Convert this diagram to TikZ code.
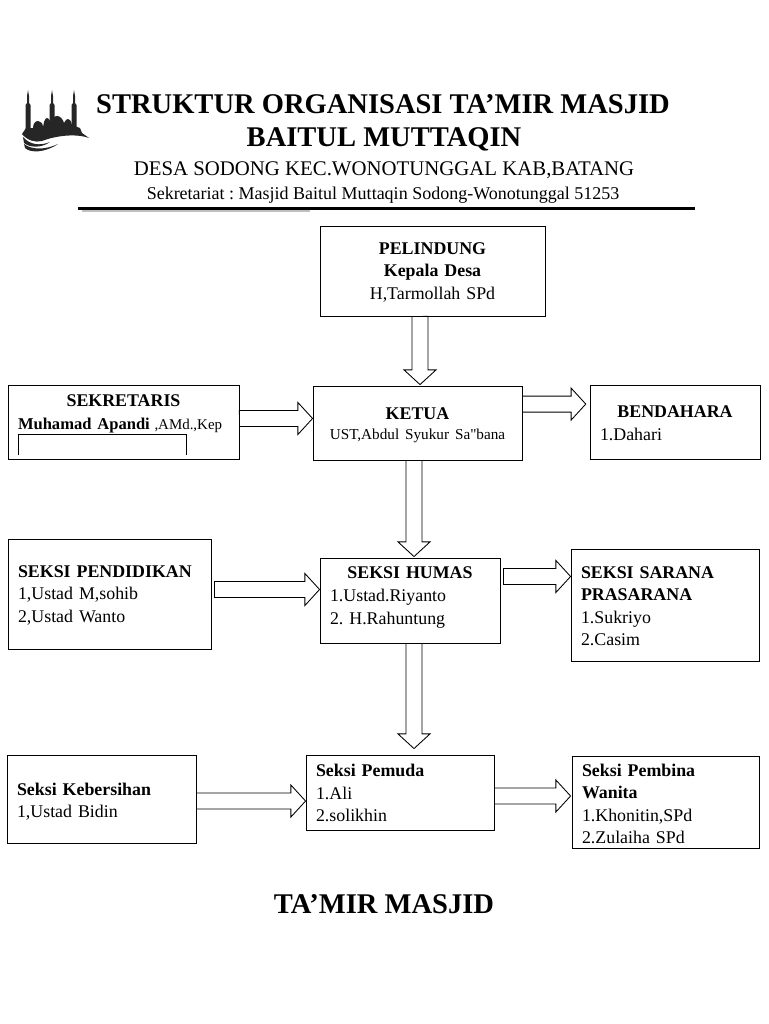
\documentclass[tikz,border=0pt]{standalone}
\usepackage{fontspec}
\setmainfont{Liberation Serif}
\newfontfamily\plainfont{Liberation Serif}
\usetikzlibrary{positioning,calc}
\frenchspacing
\newcommand{\fs}[1]{\fontsize{#1}{#1}\selectfont}
\newcommand{\hd}[1]{\makebox[\hsize]{\bfseries #1}}
\newcommand{\vpad}[1]{\rule[-#1pt]{0pt}{#1pt}}
\tikzset{
  box/.style 2 args={draw,line width=.65pt,minimum width=#1*.75pt,minimum height=#2*.75pt,
    inner xsep=7.5pt,inner ysep=0pt,text width=(#1-20)*.75pt,align=left,
    font=\fontsize{13.4}{16.9}\selectfont,execute at begin node={\rule{0pt}{10.5pt}}},
  boxc/.style 2 args={box={#1}{#2},align=center},
  title/.style={inner sep=0pt,font=\bfseries\fs{21.4}},
  blockarrow/.style={draw,fill=white,line width=.65pt,line join=miter,to path={
    ($(\tikztostart)!6pt!-90:(\tikztotarget)$)
    -- ($($(\tikztotarget)!11pt!(\tikztostart)$)!6pt!-90:(\tikztotarget)$)
    -- ($($(\tikztotarget)!11pt!(\tikztostart)$)!12pt!-90:(\tikztotarget)$)
    -- (\tikztotarget)
    -- ($($(\tikztotarget)!11pt!(\tikztostart)$)!12pt!90:(\tikztotarget)$)
    -- ($($(\tikztotarget)!11pt!(\tikztostart)$)!6pt!90:(\tikztotarget)$)
    -- ($(\tikztostart)!6pt!90:(\tikztotarget)$)
    -- cycle
    }}
}
\begin{document}
\begin{tikzpicture}[x=.75pt,y=-.75pt]
  \useasboundingbox (0,0) rectangle (768,1024);

  % heading
  \node[title] (judul1) at (383,104) {STRUKTUR ORGANISASI TA’MIR MASJID};
  \node[title] (judul2) at (384,139) {BAITUL MUTTAQIN};
  \node[inner sep=0pt,font=\fs{15.6}] (desa) at (384,170) {DESA SODONG KEC.WONOTUNGGAL KAB,BATANG};
  \node[inner sep=0pt,font=\fs{13.5}] (alamat) at (383,195) {Sekretariat : Masjid Baitul Muttaqin Sodong-Wonotunggal 51253};
  \draw[gray!50,line width=1.5pt] (82,211) -- (310,211);
  \draw[line width=1.7pt] (78,208.5) -- (695,208.5);

  % logo
  \foreach \mx in {28,52,74}{
    \fill[black!85] (\mx,90) -- (\mx+1,96) -- (\mx+1,103) -- (\mx+2.5,105) -- (\mx+2.5,130) -- (\mx-2.5,130) -- (\mx-2.5,105) -- (\mx-1,103) -- (\mx-1,96) -- cycle;
  }
  \fill[black!85] (26,128) -- (33,128) .. controls (33,123) and (36,121) .. (38,121)
    .. controls (40,121) and (43,123) .. (43,127) -- (44,122) .. controls (45,119) and (46,118) .. (47,118)
    .. controls (48,118) and (49,119) .. (50,121) .. controls (52,118) and (55,116) .. (57,116)
    .. controls (60,116) and (63,119) .. (64,123) .. controls (65,120) and (67,119) .. (68,119)
    .. controls (70,119) and (71,121) .. (72,125) -- (80,128) -- (82,133) -- (89,138)
    .. controls (75,133) and (55,136) .. (42,141) .. controls (35,143) and (27,140) .. (22,134)
    -- (26,128) -- cycle;
  \fill[black!85] (23,137) .. controls (30,145) and (40,146) .. (50,142) .. controls (42,148) and (30,148) .. (24,143) -- cycle;
  \fill[black!85] (24,144) .. controls (32,150) and (45,150) .. (58,144) .. controls (45,153) and (30,153) .. (25,148) -- cycle;

  % boxes
  \node[boxc={225}{90}] (pelindung) at (432.5,271) {\textbf{PELINDUNG}\\ \textbf{Kepala Desa}\\H,Tarmollah SPd};
  \node[box={231}{74}] (sekretaris) at (123.5,422) {\hd{SEKRETARIS}\\ \makebox[\hsize][l]{\textbf{\fontsize{12.4}{16.9}\selectfont Muhamad Apandi}\hspace{3.5pt}{\fontsize{11.2}{16.9}\selectfont ,AMd.,Kep}}\\ \mbox{}};
  \node[boxc={209}{74}] (ketua) at (417.5,423) {\rule{0pt}{12.5pt}\textbf{KETUA}\\[-2.2pt]{\fs{11.4} UST,Abdul Syukur Sa{\plainfont "}bana}};
  \node[box={170}{74}] (bendahara) at (675,422) {\hd{BENDAHARA}\\1.Dahari};
  \node[box={203}{110}] (pendidikan) at (109.5,594) {\textbf{SEKSI PENDIDIKAN}\\1,Ustad M,sohib\\2,Ustad Wanto};
  \node[box={180}{85}] (humas) at (410,600.5) {\hd{SEKSI HUMAS}\\1.Ustad.Riyanto\\2. H.Rahuntung\vpad{9}};
  \node[box={188}{112}] (sarana) at (665,605) {\textbf{SEKSI SARANA}\\ \textbf{PRASARANA}\\1.Sukriyo\\2.Casim};
  \node[box={189}{88}] (kebersihan) at (101.5,799) {\rule{0pt}{13pt}\textbf{Seksi Kebersihan}\\1,Ustad Bidin};
  \node[box={188}{75}] (pemuda) at (400,792.5) {\textbf{Seksi Pemuda}\\1.Ali\\2.solikhin};
  \node[box={187}{92}] (pembina) at (665.5,802) {\rule{0pt}{12pt}\textbf{Seksi Pembina}\\ \textbf{Wanita}\\1.Khonitin,SPd\\2.Zulaiha SPd};

  \draw[line width=.65pt] (18,455) -- (18,434) -- (186,434) -- (186,455);

  % arrows
  \draw[blockarrow] ([xshift=-9.4pt]pelindung.south) to ([xshift=1.9pt,yshift=.75pt]ketua.north);
  \draw[blockarrow] ([yshift=2.6pt]sekretaris.east) to ([yshift=3.4pt]ketua.west);
  \draw[blockarrow] ([yshift=14.2pt]ketua.east) to +(47.5pt,0);
  \draw[blockarrow] ([xshift=-2.6pt]ketua.south) to ([xshift=3pt,yshift=.75pt]humas.north);
  \draw[blockarrow] ([xshift=2.25pt,yshift=3.4pt]pendidikan.east) to ([yshift=8.25pt]humas.west);
  \draw[blockarrow] ([xshift=2.25pt,yshift=18pt]humas.east) to ([yshift=21.4pt]sarana.west);
  \draw[blockarrow] ([xshift=3pt]humas.south) to ([xshift=10.5pt,yshift=4.5pt]pemuda.north);
  \draw[blockarrow] ([yshift=-1.5pt]kebersihan.east) to ([yshift=-6.4pt]pemuda.west);
  \draw[blockarrow] ([yshift=-2.6pt]pemuda.east) to ([xshift=-.75pt,yshift=4.5pt]pembina.west);

  \node[title] (tamir) at (384,904) {TA’MIR MASJID};
\end{tikzpicture}
\end{document}
